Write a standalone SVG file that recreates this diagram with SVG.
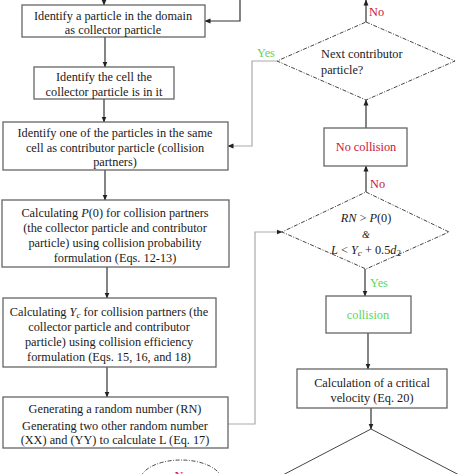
<svg xmlns="http://www.w3.org/2000/svg" width="474" height="474" viewBox="0 0 474 474">
<style>
.box{fill:#fff;stroke:#666;stroke-width:1.3}
.t{font-family:"Liberation Serif","Times New Roman",serif;font-size:12.3px;fill:#1a1a1a;text-anchor:middle}
.l{text-anchor:start}
.dia{fill:#fff;stroke:#444;stroke-width:1;stroke-dasharray:4 1.5 1 1.5}
.dia3{fill:#fff;stroke:#444;stroke-width:1}
.ell{fill:#fff;stroke:#444;stroke-width:1;stroke-dasharray:4 1.5 1 1.5}
.c{fill:none;stroke:#333;stroke-width:1.2}
.cl{fill:none;stroke:#aaa;stroke-width:1.2}
.red{fill:#c8143c}
.grn{fill:#5fd35f}
.i{font-style:italic}
.sub{font-size:9px}
</style>
<defs>
<marker id="ah" markerWidth="6" markerHeight="6" refX="5.5" refY="3" orient="auto" markerUnits="userSpaceOnUse"><path d="M0,0.5 L6,3 L0,5.5 z" fill="#222"/></marker>
</defs>
<rect width="474" height="474" fill="#fff"/>
<g id="connectors">
<path class="c" d="M104,-5 V5" marker-end="url(#ah)"/>
<path class="c" d="M240,0 V21 H205" marker-end="url(#ah)"/>
<path class="c" d="M105,37 V67" marker-end="url(#ah)"/>
<path class="c" d="M104,99 V122" marker-end="url(#ah)"/>
<path class="c" d="M105,170 V200" marker-end="url(#ah)"/>
<path class="c" d="M107,267 V298" marker-end="url(#ah)"/>
<path class="c" d="M107,367 V397" marker-end="url(#ah)"/>
<path class="cl" d="M228,424 H255 V232 H282" marker-end="url(#ah)"/>
<path class="cl" d="M277,61 H252 V146 H228" marker-end="url(#ah)"/>
<path class="c" d="M366,22 V0" marker-end="url(#ah)"/>
<path class="c" d="M366,128 V100" marker-end="url(#ah)"/>
<path class="c" d="M366,192 V166" marker-end="url(#ah)"/>
<path class="c" d="M365,269 V296" marker-end="url(#ah)"/>
<path class="c" d="M368,333 V369" marker-end="url(#ah)"/>
<path class="c" d="M371,408 V429" marker-end="url(#ah)"/>
<text class="t red l" x="369" y="16">No</text>
<text class="t grn l" x="257" y="57">Yes</text>
<text class="t red l" x="370" y="188">No</text>
<text class="t grn l" x="370" y="287">Yes</text>
</g>
<g id="box1">
<rect class="box" x="22" y="5" width="183" height="32"/>
<text class="t" x="113" y="19.5">Identify a particle in the domain</text>
<text class="t" x="113" y="34">as collector particle</text>
</g>
<g id="box2">
<rect class="box" x="34" y="67" width="140" height="32"/>
<text class="t" x="104" y="81">Identify the cell the</text>
<text class="t" x="104" y="95.5">collector particle is in it</text>
</g>
<g id="box3">
<rect class="box" x="3" y="122" width="225" height="48"/>
<text class="t" x="115" y="137">Identify one of the particles in the same</text>
<text class="t" x="115" y="151.5">cell as contributor particle (collision</text>
<text class="t" x="115" y="166">partners)</text>
</g>
<g id="box4">
<rect class="box" x="2" y="200" width="227" height="67"/>
<text class="t" x="115" y="217">Calculating <tspan class="i">P</tspan>(0) for collision partners</text>
<text class="t" x="115" y="232">(the collector particle and contributor</text>
<text class="t" x="115" y="246.5">particle) using collision probability</text>
<text class="t" x="115" y="261.5">formulation (Eqs. 12-13)</text>
</g>
<g id="box5">
<rect class="box" x="3" y="298" width="213" height="69"/>
<text class="t" x="109" y="316">Calculating <tspan class="i">Y</tspan><tspan class="i sub" dy="2">c</tspan><tspan dy="-2"> for collision partners (the</tspan></text>
<text class="t" x="109" y="330.5">collector particle and contributor</text>
<text class="t" x="109" y="345.5">particle) using collision efficiency</text>
<text class="t" x="109" y="360.5">formulation (Eqs. 15, 16, and 18)</text>
</g>
<g id="box6">
<rect class="box" x="3" y="397" width="225" height="51"/>
<text class="t" x="115" y="413">Generating a random number (RN)</text>
<text class="t" x="115" y="430">Generating two other random number</text>
<text class="t" x="115" y="444">(XX) and (YY) to calculate L (Eq. 17)</text>
</g>
<g id="ellipse">
<ellipse class="ell" cx="181" cy="481" rx="41" ry="21"/>
<text class="t red" x="182" y="480">No</text>
</g>
<g id="diamond1">
<polygon class="dia" points="366,22 455,61 366,100 277,61"/>
<text class="t l" x="321" y="58">Next contributor</text>
<text class="t l" x="321" y="74">particle?</text>
</g>
<g id="nocollision">
<rect class="box" x="324" y="128" width="83" height="38"/>
<text class="t red" x="366" y="151">No collision</text>
</g>
<g id="diamond2">
<polygon class="dia" points="366,192 449,232 366,269 282,232"/>
<text class="t" x="366" y="222"><tspan class="i">RN</tspan> &gt; <tspan class="i">P</tspan>(0)</text>
<text class="t i" x="366" y="238" style="font-size:10px">&amp;</text>
<text class="t" x="366" y="254"><tspan class="i">L</tspan> &lt; <tspan class="i">Y</tspan><tspan class="i sub" dy="2">c</tspan><tspan dy="-2"> + 0.5</tspan><tspan class="i">d</tspan><tspan class="sub" dy="2">2</tspan></text>
</g>
<g id="collision">
<rect class="box" x="326" y="296" width="85" height="37"/>
<text class="t grn" x="368" y="319">collision</text>
</g>
<g id="critical">
<rect class="box" x="297" y="369" width="150" height="39"/>
<text class="t" x="372" y="387">Calculation of  a critical</text>
<text class="t" x="372" y="402">velocity (Eq. 20)</text>
</g>
<g id="diamond3">
<polygon class="dia3" points="371,429 486,489 371,549 256,489"/>
</g>
</svg>
